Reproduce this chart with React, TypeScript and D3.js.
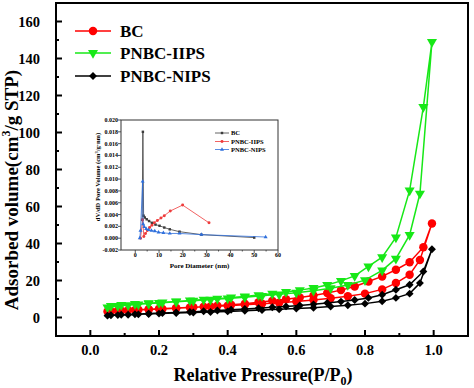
import React from 'react';
import * as d3 from 'd3';

const W = 474;
const H = 388;
const FONT = '"Liberation Serif", "Times New Roman", serif';

// N2 isotherms: adsorption branch then desorption branch (P/P0)
const adsP = [0.05, 0.08, 0.11, 0.14, 0.17, 0.2, 0.25, 0.3, 0.35, 0.4, 0.45, 0.5, 0.55, 0.6, 0.65, 0.7, 0.75, 0.8, 0.85, 0.89, 0.93, 0.96, 0.995];
const desP = [0.97, 0.93, 0.89, 0.85, 0.81, 0.77, 0.73, 0.69, 0.65, 0.61, 0.57, 0.53, 0.49, 0.45, 0.41, 0.37, 0.33, 0.29, 0.25, 0.21, 0.17, 0.13, 0.09, 0.06];

const bcAds = [3.2, 3.6, 3.9, 4.2, 4.4, 4.7, 5.1, 5.5, 5.9, 6.4, 6.9, 7.4, 8.0, 8.7, 9.5, 10.4, 11.5, 12.9, 15.2, 18.6, 23.1, 31.1, 50.8];
const bcDes = [38.0, 29.9, 25.8, 22.2, 19.5, 16.8, 14.8, 13.2, 11.9, 10.8, 9.9, 9.0, 8.2, 7.5, 6.9, 6.3, 5.8, 5.4, 5.0, 4.6, 4.3, 4.0, 3.7, 3.4];

const iipsAds = [5.5, 6.2, 6.7, 7.1, 7.5, 7.9, 8.5, 9.1, 9.7, 10.3, 11.0, 11.7, 12.5, 13.4, 14.5, 15.8, 17.6, 20.2, 25.5, 31.8, 44.6, 67.0, 149.0];
const iipsDes = [113.8, 68.7, 43.3, 32.6, 27.6, 22.5, 19.8, 17.6, 16.0, 14.8, 13.8, 12.9, 12.1, 11.4, 10.8, 10.2, 9.7, 9.2, 8.7, 8.2, 7.7, 7.3, 6.8, 6.3];

const nipsAds = [1.0, 1.3, 1.5, 1.7, 1.9, 2.1, 2.4, 2.7, 3.0, 3.3, 3.6, 4.0, 4.4, 4.8, 5.3, 5.9, 6.6, 7.5, 8.8, 10.6, 12.9, 18.6, 36.9];
const nipsDes = [24.9, 17.7, 15.0, 12.3, 10.6, 9.5, 8.6, 7.8, 7.1, 6.5, 6.0, 5.5, 5.0, 4.6, 4.2, 3.8, 3.4, 3.0, 2.7, 2.4, 2.1, 1.8, 1.5, 1.2];

const seriesNames = ['BC', 'PNBC-IIPS', 'PNBC-NIPS'];
const seriesColors = ['#ff0000', '#17e817', '#000000'];

const xTicks = [0, 0.2, 0.4, 0.6, 0.8, 1.0];
const xMinor = [0.1, 0.3, 0.5, 0.7, 0.9];
const yTicks = [0, 20, 40, 60, 80, 100, 120, 140, 160];
const yMinor = [10, 30, 50, 70, 90, 110, 130, 150];

// inset: pore size distribution
const bcD = [2.9, 3.2, 3.5, 4.0, 4.8, 5.8, 7.0, 8.5, 10.2, 12.2, 14.5, 18.6, 27.8, 50.0];
const bcDv = [0.0031, 0.018, 0.0038, 0.0035, 0.0032, 0.0029, 0.0026, 0.0023, 0.0021, 0.0018, 0.0015, 0.0011, 0.0006, 0.0001];
const iipsD = [2.2, 3.1, 3.6, 4.3, 5.1, 6.0, 7.0, 8.0, 9.3, 10.8, 12.2, 14.7, 19.9, 31.0];
const iipsDv = [0.0, 0.0031, 0.0003, 0.0008, 0.0013, 0.0018, 0.0022, 0.0026, 0.003, 0.0034, 0.0038, 0.0046, 0.0056, 0.0026];
const nipsD = [1.9, 2.2, 3.1, 3.3, 3.8, 4.6, 5.6, 6.8, 8.2, 9.8, 11.8, 14.5, 18.6, 27.8, 54.8];
const nipsDv = [0.0, 0.0013, 0.0096, 0.0024, 0.0019, 0.0016, 0.0014, 0.0013, 0.0012, 0.001, 0.0009, 0.0008, 0.0008, 0.0006, 0.0002];

const insetNames = ['BC', 'PNBC-IIPS', 'PNBC-NIPS'];
const insetColors = ['#3c3c3c', '#ee3b3b', '#2e6fdc'];
const insetXTicks = [0, 10, 20, 30, 40, 50, 60];
const insetXMinor = [5, 15, 25, 35, 45, 55];
const insetYTicks = [-0.002, 0, 0.002, 0.004, 0.006, 0.008, 0.01, 0.012, 0.014, 0.016, 0.018, 0.02];

type Pt = [number, number];
const zip = (a: number[], b: number[]): Pt[] => a.map((v, i) => [v, b[i]]);

const mainSeries: Pt[][] = [
  [...zip(adsP, bcAds), ...zip(desP, bcDes)],
  [...zip(adsP, iipsAds), ...zip(desP, iipsDes)],
  [...zip(adsP, nipsAds), ...zip(desP, nipsDes)],
];
const insetSeries: Pt[][] = [zip(bcD, bcDv), zip(iipsD, iipsDv), zip(nipsD, nipsDv)];

const mainSymbols = [
  { type: d3.symbolCircle, size: 56, rot: 0 },
  { type: d3.symbolTriangle, size: 44, rot: 180 },
  { type: d3.symbolDiamond2, size: 40, rot: 0 },
];
const insetSymbols = [
  { type: d3.symbolSquare, size: 6, rot: 0 },
  { type: d3.symbolCircle, size: 7, rot: 0 },
  { type: d3.symbolTriangle, size: 7, rot: 0 },
];

export default function App() {
  // main plot area
  const m = { left: 56, right: 468, top: 3, bottom: 336 };
  const x = d3.scaleLinear().domain([-0.1, 1.1]).range([m.left, m.right]);
  const y = d3.scaleLinear().domain([-10, 170]).range([m.bottom, m.top]);
  const line = d3.line<Pt>().x(d => x(d[0])).y(d => y(d[1]));

  // inset area
  const im = { left: 121, right: 278, top: 120, bottom: 250 };
  const ix = d3.scaleLinear().domain([-6, 60]).range([im.left, im.right]);
  const iy = d3.scaleLinear().domain([-0.002, 0.02]).range([im.bottom, im.top]);
  const iline = d3.line<Pt>().x(d => ix(d[0])).y(d => iy(d[1]));

  return (
    <svg width={W} height={H} style={{ position: 'absolute', left: 0, top: 0, background: '#fff' }}
      fontFamily={FONT} fontWeight="bold">
      <rect width={W} height={H} fill="#fff" />

      {/* main data */}
      {mainSeries.map((s, i) => (
        <g key={i}>
          <path d={line(s) || ''} fill="none" stroke={seriesColors[i]} strokeWidth={1.5} />
          {s.map((d, j) => (
            <path key={j} d={d3.symbol().type(mainSymbols[i].type).size(mainSymbols[i].size)() || ''}
              transform={`translate(${x(d[0])},${y(d[1])}) rotate(${mainSymbols[i].rot})`}
              fill={seriesColors[i]} />
          ))}
        </g>
      ))}

      {/* main frame and ticks */}
      <rect x={m.left} y={m.top} width={m.right - m.left} height={m.bottom - m.top}
        fill="none" stroke="#000" strokeWidth={2} />
      {xTicks.map(t => (
        <g key={t}>
          <line x1={x(t)} x2={x(t)} y1={m.bottom} y2={m.bottom - 6} stroke="#000" strokeWidth={2} />
          <text x={x(t)} y={355} textAnchor="middle" fontSize={14.5}>{t.toFixed(1)}</text>
        </g>
      ))}
      {xMinor.map(t => (
        <line key={t} x1={x(t)} x2={x(t)} y1={m.bottom} y2={m.bottom - 3} stroke="#000" strokeWidth={2} />
      ))}
      {yTicks.map(t => (
        <g key={t}>
          <line x1={m.left} x2={m.left + 6} y1={y(t)} y2={y(t)} stroke="#000" strokeWidth={2} />
          <text x={40} y={y(t) + 5} textAnchor="end" fontSize={14.5}>{t}</text>
        </g>
      ))}
      {yMinor.map(t => (
        <line key={t} x1={m.left} x2={m.left + 3} y1={y(t)} y2={y(t)} stroke="#000" strokeWidth={2} />
      ))}

      {/* axis titles */}
      <text x={263} y={381} textAnchor="middle" fontSize={18}>
        Relative Pressure(P/P<tspan dy={4} fontSize={12}>0</tspan><tspan dy={-4}>)</tspan>
      </text>
      <text transform="translate(18,190) rotate(-90)" textAnchor="middle" fontSize={19}>
        Adsorbed volume(cm<tspan dy={-8} fontSize={12}>3</tspan><tspan dy={8}>/g STP)</tspan>
      </text>

      {/* legend */}
      {seriesNames.map((n, i) => {
        const ly = [31, 53, 76][i];
        return (
          <g key={n}>
            <line x1={75} x2={111} y1={ly} y2={ly} stroke={seriesColors[i]} strokeWidth={1.5} />
            <path d={d3.symbol().type(mainSymbols[i].type).size(mainSymbols[i].size)() || ''}
              transform={`translate(93,${ly}) rotate(${mainSymbols[i].rot})`} fill={seriesColors[i]} />
            <text x={120} y={ly + 6} fontSize={17}>{n}</text>
          </g>
        );
      })}

      {/* inset */}
      <rect x={im.left} y={im.top} width={im.right - im.left} height={im.bottom - im.top} fill="#fff" />
      {insetSeries.map((s, i) => (
        <g key={i}>
          <path d={iline(s) || ''} fill="none" stroke={insetColors[i]} strokeWidth={0.8} />
          {s.map((d, j) => (
            <path key={j} d={d3.symbol().type(insetSymbols[i].type).size(insetSymbols[i].size)() || ''}
              transform={`translate(${ix(d[0])},${iy(d[1])})`} fill={insetColors[i]} />
          ))}
        </g>
      ))}
      <rect x={im.left} y={im.top} width={im.right - im.left} height={im.bottom - im.top}
        fill="none" stroke="#333" strokeWidth={1} />
      {insetXTicks.map(t => (
        <g key={t}>
          <line x1={ix(t)} x2={ix(t)} y1={im.bottom} y2={im.bottom + 3} stroke="#333" strokeWidth={0.8} />
          <text x={ix(t)} y={257} textAnchor="middle" fontSize={6}>{t}</text>
        </g>
      ))}
      {insetXMinor.map(t => (
        <line key={t} x1={ix(t)} x2={ix(t)} y1={im.bottom} y2={im.bottom + 1.5} stroke="#333" strokeWidth={0.8} />
      ))}
      {insetYTicks.map(t => (
        <g key={t}>
          <line x1={im.left} x2={im.left - 3} y1={iy(t)} y2={iy(t)} stroke="#333" strokeWidth={0.8} />
          <text x={118} y={iy(t) + 2} textAnchor="end" fontSize={6}>{t.toFixed(3)}</text>
        </g>
      ))}
      <text x={(im.left + im.right) / 2} y={268} textAnchor="middle" fontSize={7}>Pore Diameter (nm)</text>
      <text transform={`translate(100,${(im.top + im.bottom) / 2 - 8}) rotate(-90)`} textAnchor="middle" fontSize={6.5}>
        dV/dD Pore Volume (cm<tspan dy={-2.5} fontSize={4.5}>3</tspan><tspan dy={2.5}>/g·nm)</tspan>
      </text>
      {insetNames.map((n, i) => {
        const ly = [133, 141.5, 149.5][i];
        return (
          <g key={n}>
            <line x1={215} x2={229} y1={ly} y2={ly} stroke={insetColors[i]} strokeWidth={0.8} />
            <path d={d3.symbol().type(insetSymbols[i].type).size(insetSymbols[i].size)() || ''}
              transform={`translate(222,${ly})`} fill={insetColors[i]} />
            <text x={231} y={ly + 2.3} fontSize={6.5}>{n}</text>
          </g>
        );
      })}
    </svg>
  );
}
